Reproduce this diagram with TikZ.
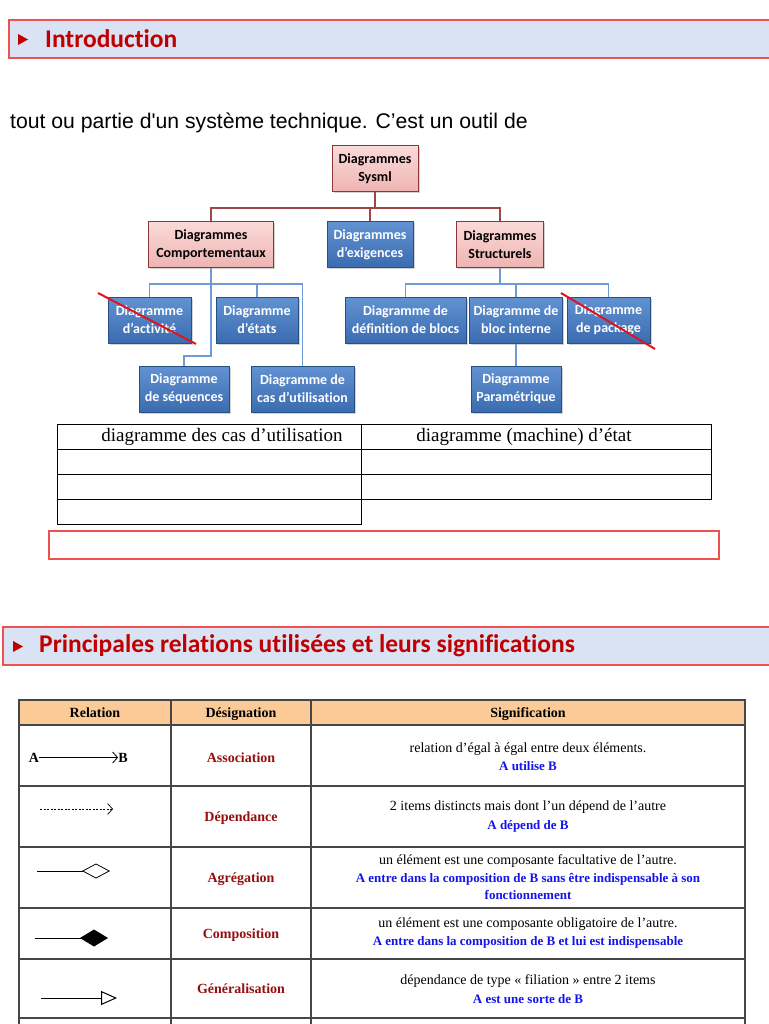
\documentclass[tikz,border=0pt]{standalone}
\usepackage{fontspec}
\setmainfont{Liberation Serif}
\newfontfamily\carl[Ligatures=NoCommon]{Carlito}
\newfontfamily\arial{Liberation Sans}
\usetikzlibrary{arrows.meta,shadows}
\definecolor{hdrfill}{RGB}{218,227,243}
\definecolor{hdrline}{RGB}{240,80,80}
\definecolor{hdrtext}{RGB}{192,0,0}
\definecolor{bluetop}{RGB}{98,146,210}
\definecolor{bluebot}{RGB}{58,108,176}
\definecolor{bluebord}{RGB}{40,80,130}
\definecolor{pinktop}{RGB}{250,218,216}
\definecolor{pinkbot}{RGB}{238,180,178}
\definecolor{pinkbord}{RGB}{140,55,55}
\definecolor{treered}{RGB}{160,70,72}
\definecolor{treeblue}{RGB}{110,155,215}
\definecolor{strikered}{RGB}{225,20,30}
\definecolor{orangeh}{RGB}{251,202,150}
\definecolor{desred}{RGB}{150,15,15}
\definecolor{sigblue}{RGB}{20,20,235}
\definecolor{tgray}{RGB}{70,70,70}
\tikzset{
  hdrbox/.style={draw=hdrline, fill=hdrfill, line width=1.2pt},
  hdrtxt/.style={anchor=west, text=hdrtext, inner sep=0, font=\carl\bfseries\fontsize{25.5}{30}\selectfont},
  boxbase/.style={line width=1pt, align=center, inner sep=0,
    font=\carl\bfseries\fontsize{14}{18}\selectfont,
    drop shadow={shadow xshift=1.5pt, shadow yshift=-1.5pt, opacity=0.35}},
  blueb/.style={boxbase, draw=bluebord, top color=bluetop, bottom color=bluebot, text=white},
  pinkb/.style={boxbase, draw=pinkbord, top color=pinktop, bottom color=pinkbot, text=black},
  redcon/.style={draw=treered, line width=1.4pt},
  bluecon/.style={draw=treeblue, line width=1.2pt},
  strike/.style={draw=strikered, line width=2pt},
  t1line/.style={draw=black, line width=1pt},
  t1txt/.style={anchor=base, font=\fontsize{19}{22}\selectfont, inner sep=0},
  tline/.style={draw=tgray, line width=1.4pt},
  thead/.style={anchor=base, font=\bfseries\fontsize{14}{16}\selectfont, inner sep=0},
  desig/.style={anchor=base, font=\bfseries\fontsize{14}{16}\selectfont, text=desred, inner sep=0},
  sig/.style={font=\fontsize{14}{18.5}\selectfont, align=center, inner sep=0},
  relline/.style={draw=black, line width=1pt},
}
\newcommand{\bl}[1]{{\fontsize{13}{18}\selectfont\textcolor{sigblue}{\bfseries #1}}}
\begin{document}
\begin{tikzpicture}[x=1pt,y=-1pt]
\useasboundingbox[fill=white] (0,0) rectangle (768,1024);
% header 1
\draw[hdrbox] (9,20) rectangle (775,58);
\fill[hdrtext] (18,34) -- (28,39.5) -- (18,45) -- cycle;
\node[hdrtxt] (h1) at (45,39) {Introduction};
% paragraph
\node[anchor=base west, inner sep=0, font=\arial\fontsize{21.2}{24}\selectfont] (p1) at (10,129) {tout ou partie d'un système technique. C’est un outil de};
% tree
\node[pinkb, minimum width=86, minimum height=46] (root) at (375,169) {Diagrammes\\Sysml};
\node[pinkb, minimum width=125, minimum height=45] (comp) at (211,244.5) {Diagrammes\\Comportementaux};
\node[blueb, minimum width=86, minimum height=45] (exig) at (370,244.5) {Diagrammes\\d’exigences};
\node[pinkb, minimum width=87, minimum height=45] (struct) at (500,244.5) {Diagrammes\\Structurels};
\node[blueb, minimum width=83, minimum height=46] (act) at (149.5,320) {Diagramme\\d’activité};
\node[blueb, minimum width=82, minimum height=46] (etats) at (257,320) {Diagramme\\d’états};
\node[blueb, minimum width=121, minimum height=46] (defi) at (405.5,320) {Diagramme de\\définition de blocs};
\node[blueb, minimum width=93, minimum height=46] (bloc) at (516,320) {Diagramme de\\bloc interne};
\node[blueb, minimum width=83, minimum height=46] (pack) at (608.5,320) {Diagramme\\de package};
\node[blueb, minimum width=90, minimum height=46] (seq) at (184,389) {Diagramme\\de séquences};
\node[blueb, minimum width=103, minimum height=46] (cas) at (302.5,389) {Diagramme de\\cas d’utilisation};
\node[blueb, minimum width=90, minimum height=46] (param) at (516,389) {Diagramme\\Paramétrique};
% connectors top
\coordinate (jr) at (375,208);
\coordinate (je) at (370,208);
\draw[redcon] (root.south) -- (jr) -| (comp.north);
\draw[redcon] (jr) -| (struct.north);
\draw[redcon] (je) -- (exig.north);
% behaviour children
\coordinate (jc) at (211,284);
\coordinate (js) at (211,356);
\draw[bluecon] (comp.south) -- (jc) -- (js) -| (seq.north);
\draw[bluecon] (act.north) |- (jc);
\draw[bluecon] (etats.north) |- (jc);
\draw[bluecon] (cas.north) |- (jc);
% structure children
\coordinate (jst) at (500,284);
\draw[bluecon] (struct.south) -- (jst);
\draw[bluecon] (defi.north) |- (jst);
\draw[bluecon] (bloc.north) |- (jst);
\draw[bluecon] (pack.north) |- (jst);
\draw[bluecon] (bloc.south) -- (param.north);
% strikes
\draw[strike] (98,293) -- (196,344);
\draw[strike] (561,293) -- (655,349);
% table 1
\draw[t1line] (57,424) rectangle (361,524);
\draw[t1line] (57,449) -- (361,449) (57,474) -- (361,474) (57,499) -- (361,499);
\draw[t1line] (361,424) rectangle (711,499);
\draw[t1line] (361,449) -- (711,449) (361,474) -- (711,474);
\node[t1txt] (c1) at (222,441) {diagramme des cas d’utilisation};
\node[t1txt] (c2) at (524,441) {diagramme (machine) d’état};
% red box
\draw[draw=hdrline, line width=1.2pt] (49,531) rectangle (719,559);
% header 2
\draw[hdrbox] (3,627) rectangle (775,665);
\fill[hdrtext] (13,641) -- (23,646.5) -- (13,652) -- cycle;
\node[hdrtxt] (h2) at (39,646) {Principales relations utilisées et leurs significations};
% table 2
\fill[orangeh] (19,700) rectangle (745,725);
\draw[tline] (19,1030) -- (19,700) -- (745,700) -- (745,1030);
\foreach \yy in {725,786,847,908,959,1018}{\draw[tline] (19,\yy) -- (745,\yy);}
\draw[tline] (171,700) -- (171,1030);
\draw[tline] (311,700) -- (311,1030);
\node[thead] (hr) at (95,717) {Relation};
\node[thead] (hd) at (241,717) {Désignation};
\node[thead] (hs) at (528,717) {Signification};
\node[desig] (d1) at (241,762) {Association};
\node[desig] (d2) at (241,821) {Dépendance};
\node[desig] (d3) at (241,882) {Agrégation};
\node[desig] (d4) at (241,938) {Composition};
\node[desig] (d5) at (241,993) {Généralisation};
\node[sig] (s1) at (528,756.5) {relation d’égal à égal entre deux éléments.\\\bl{A utilise B}};
\node[sig] (s2) at (528,816.5) {2 items distincts mais dont l’un dépend de l’autre\\\bl{A dépend de B}};
\node[sig, font=\fontsize{14}{17.5}\selectfont] (s3) at (528,877.5) {un élément est une composante facultative de l’autre.\\\bl{A entre dans la composition de B sans être indispensable à son}\\\bl{fonctionnement}};
\node[sig] (s4) at (528,933) {un élément est une composante obligatoire de l’autre.\\\bl{A entre dans la composition de B et lui est indispensable}};
\node[sig] (s5) at (528,989) {dépendance de type « filiation » entre 2 items\\\bl{A est une sorte de B}};
% relation symbols
\node[font=\bfseries\fontsize{14}{16}\selectfont, inner sep=0] (ra) at (34,757.5) {A};
\node[font=\bfseries\fontsize{14}{16}\selectfont, inner sep=0] (rb) at (123,757.5) {B};
\draw[draw=black, line width=0.8pt, -{Straight Barb[length=5pt,width=11pt]}] (ra.east) -- (rb.west);
\coordinate (dp1) at (40,809);
\coordinate (dp2) at (113,809);
\draw[draw=black, line width=0.7pt, dash pattern=on 2pt off 1.5pt, -{Straight Barb[length=5pt,width=11pt]}] (dp1) -- (dp2);
\coordinate (ag1) at (37,871);
\coordinate (ag2) at (110,871);
\draw[relline, -{Diamond[open,length=28pt,width=15pt,line width=0.8pt]}] (ag1) -- (ag2);
\coordinate (co1) at (35,938);
\coordinate (co2) at (108,938);
\draw[relline, -{Diamond[length=28pt,width=17pt]}] (co1) -- (co2);
\coordinate (ge1) at (41,998);
\coordinate (ge2) at (117,998);
\draw[relline, line width=0.8pt, -{Triangle[open,length=16pt,width=14pt,line width=1pt]}] (ge1) -- (ge2);
\end{tikzpicture}
\end{document}
